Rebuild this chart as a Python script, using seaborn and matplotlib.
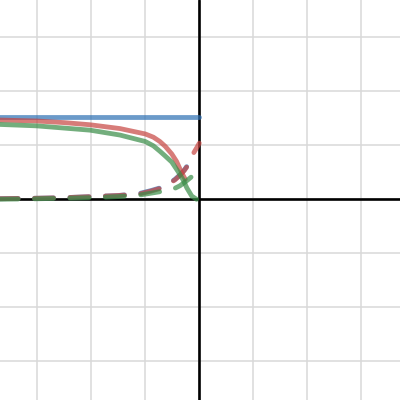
import numpy as np
import pandas as pd
import matplotlib
matplotlib.use("Agg")
import matplotlib.pyplot as plt
import seaborn as sns

# values (graph units, one grid square = 1)
blue_solid_x = [-3.78, 0.0]
blue_solid_y = [1.53, 1.53]

red_solid_x = [-3.78, -3.01, -2.50, -2.02, -1.47, -1.00, -0.85, -0.73, -0.63, -0.51, -0.42, -0.33, -0.26]
red_solid_y = [1.47, 1.45, 1.42, 1.38, 1.31, 1.21, 1.15, 1.07, 0.98, 0.84, 0.70, 0.50, 0.37]

green_solid_x = [-3.78, -3.01, -2.02, -1.47, -1.00, -0.85, -0.73, -0.64, -0.51, -0.39, -0.30, -0.23, -0.14, -0.05]
green_solid_y = [1.39, 1.36, 1.28, 1.19, 1.07, 0.99, 0.89, 0.81, 0.69, 0.51, 0.36, 0.21, 0.06, 0.0]

blue_dash_x = [-3.78, -3.0, -2.5, -2.0, -1.5, -1.1, -0.9, -0.73, -0.57, -0.45, -0.35, -0.28, -0.21]
blue_dash_y = [0.01, 0.02, 0.03, 0.05, 0.07, 0.11, 0.16, 0.21, 0.29, 0.37, 0.46, 0.54, 0.64]

red_dash_x = [-3.78, -3.0, -2.5, -2.0, -1.5, -1.1, -0.9, -0.73, -0.57, -0.45, -0.35, -0.28, -0.21, -0.11, -0.05, 0.0]
red_dash_y = [0.01, 0.02, 0.03, 0.05, 0.07, 0.10, 0.15, 0.20, 0.28, 0.36, 0.45, 0.53, 0.63, 0.85, 0.95, 1.04]

green_dash_x = [-3.78, -3.0, -2.0, -1.5, -1.1, -0.73, -0.50, -0.36, -0.25, -0.14]
green_dash_y = [0.0, 0.01, 0.03, 0.05, 0.08, 0.14, 0.18, 0.25, 0.33, 0.42]

BLUE = "#2d70b3"
RED = "#c74440"
GREEN = "#388c46"

sns.set_style("white")

fig = plt.figure(figsize=(4, 4), dpi=100)
ax = fig.add_axes([0, 0, 1, 1])

lw = 3.45
dash = (0, (4.0, 3.4))

curves = [
    (blue_solid_x, blue_solid_y, BLUE, "-"),
    (blue_dash_x, blue_dash_y, BLUE, dash),
    (red_solid_x, red_solid_y, RED, "-"),
    (red_dash_x, red_dash_y, RED, dash),
    (green_solid_x, green_solid_y, GREEN, "-"),
    (green_dash_x, green_dash_y, GREEN, dash),
]
for xs, ys, col, ls in curves:
    df = pd.DataFrame({"x": xs, "y": ys})
    sns.lineplot(data=df, x="x", y="y", ax=ax, color=col, alpha=0.7, lw=lw,
                 linestyle=ls, estimator=None, sort=False,
                 solid_capstyle="round", dash_capstyle="round", zorder=3)

ax.axhline(0, color="black", lw=1.9, zorder=2)
ax.axvline(0, color="black", lw=1.9, zorder=2)

ax.set_xlim(-3.691, 3.717)
ax.set_ylim(-3.717, 3.691)
ax.set_xticks(np.arange(-3, 4))
ax.set_yticks(np.arange(-3, 4))
ax.grid(True, color="#d9d9d9", lw=1.1, zorder=0)
ax.tick_params(length=0, labelbottom=False, labelleft=False)
ax.set_xlabel("")
ax.set_ylabel("")
for s in ax.spines.values():
    s.set_visible(False)

fig.savefig("out.png", dpi=100)
